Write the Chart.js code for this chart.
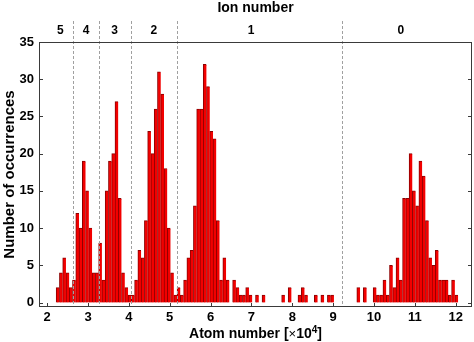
<!DOCTYPE html>
<html>
<head>
<meta charset="utf-8">
<script src="https://cdn.jsdelivr.net/npm/chart.js@4.4.0/dist/chart.umd.min.js"></script>
<style>
  html, body { margin: 0; padding: 0; background: #fff; }
  #wrap { width: 474px; height: 342px; position: relative; }
</style>
</head>
<body>
<div id="wrap"><canvas id="c" width="474" height="342"></canvas></div>
<script>
// Histogram of atom numbers (units of 10^4), equal-width bins
const binStart = 2.22;
const binWidth = 0.08;
const counts = [
  2, 4, 6, 4, 2, 3, 12, 10, 19, 15,
  10, 4, 4, 8, 3, 15, 19, 20, 27, 14,
  4, 2, 1, 1, 3, 7, 6, 11, 23, 20,
  26, 31, 28, 18, 10, 4, 1, 2, 1, 3,
  6, 7, 13, 26, 26, 32, 29, 23, 22, 11,
  3, 6, 3, 0, 3, 2, 1, 1, 2, 1,
  0, 1, 0, 1, 0, 0, 0, 0, 0, 1,
  0, 2, 0, 0, 1, 2, 1, 0, 0, 1,
  0, 1, 0, 1, 1, 0, 0, 0, 0, 0,
  0, 0, 2, 0, 2, 0, 0, 2, 1, 1,
  3, 1, 5, 2, 6, 3, 14, 14, 20, 15,
  13, 19, 17, 11, 6, 5, 7, 3, 3, 3,
  1, 3, 1
];

const xTicks = [2, 3, 4, 5, 6, 7, 8, 9, 10, 11, 12];
const yTicks = [0, 5, 10, 15, 20, 25, 30, 35];

// Ion-number regions along the atom-number axis
const ionEdges = [2.625, 3.26, 4.045, 5.17, 9.225];
const ionNumbers = ['5', '4', '3', '2', '1', '0'];
const ionLabelAt = [2.32, 2.95, 3.65, 4.61, 6.99, 10.66];

const FONT = '"Liberation Sans", Arial, Helvetica, sans-serif';

const points = counts.map((c, i) => ({
  x: binStart + binWidth * (i + 0.5),
  y: c === 0 ? null : c
}));

const decorations = {
  id: 'decorations',
  afterDatasetsDraw(chart) {
    const { ctx, chartArea: a, scales: { x: xs, y: ys } } = chart;
    ctx.save();

    // region separators
    ctx.strokeStyle = '#a0a0a0';
    ctx.lineWidth = 1;
    ctx.setLineDash([3, 2]);
    ionEdges.forEach(v => {
      const px = Math.round(xs.getPixelForValue(v)) + 0.5;
      ctx.beginPath();
      ctx.moveTo(px, 21);
      ctx.lineTo(px, a.bottom);
      ctx.stroke();
    });
    ctx.setLineDash([]);

    // axes box
    ctx.strokeStyle = '#3a3a3a';
    ctx.lineWidth = 1;
    ctx.strokeRect(a.left + 0.5, a.top + 0.5, a.right - a.left - 1, a.bottom - a.top - 1);

    // inward tick marks
    ctx.beginPath();
    yTicks.forEach(v => {
      const py = Math.round(ys.getPixelForValue(v)) + 0.5;
      ctx.moveTo(a.left, py); ctx.lineTo(a.left + 4, py);
      ctx.moveTo(a.right, py); ctx.lineTo(a.right - 4, py);
    });
    xTicks.forEach(v => {
      const px = Math.round(xs.getPixelForValue(v)) + 0.5;
      ctx.moveTo(px, a.bottom); ctx.lineTo(px, a.bottom - 4);
    });
    ctx.stroke();

    // ion numbers and top title
    ctx.fillStyle = '#000';
    ctx.textAlign = 'center';
    ctx.textBaseline = 'middle';
    ctx.font = 'bold 12px ' + FONT;
    ionNumbers.forEach((t, i) => {
      ctx.fillText(t, xs.getPixelForValue(ionLabelAt[i]), 31);
    });
    const cx = (a.left + a.right) / 2;
    ctx.font = 'bold 14px ' + FONT;
    ctx.fillText('Ion number', cx, 8);

    // x-axis title with superscript exponent
    const parts = [
      { t: 'Atom number [', f: 'bold 14px ' + FONT, dy: 0 },
      { t: '×', f: '13px ' + FONT, dy: 0 },
      { t: '10', f: 'bold 14px ' + FONT, dy: 0 },
      { t: '4', f: 'bold 10px ' + FONT, dy: -5 },
      { t: ']', f: 'bold 14px ' + FONT, dy: 0 }
    ];
    let total = 0;
    parts.forEach(p => { ctx.font = p.f; p.w = ctx.measureText(p.t).width; total += p.w; });
    let px = cx - total / 2;
    ctx.textAlign = 'left';
    ctx.textBaseline = 'alphabetic';
    parts.forEach(p => { ctx.font = p.f; ctx.fillText(p.t, px, 338 + p.dy); px += p.w; });

    // y-axis title
    ctx.translate(10, (a.top + a.bottom) / 2);
    ctx.rotate(-Math.PI / 2);
    ctx.textAlign = 'center';
    ctx.textBaseline = 'middle';
    ctx.font = 'bold 15px ' + FONT;
    ctx.fillText('Number of occurrences', 0, 0);

    ctx.restore();
  }
};

new Chart(document.getElementById('c'), {
  type: 'bar',
  data: {
    datasets: [{
      data: points,
      backgroundColor: '#f20000',
      borderColor: '#8c0000',
      borderWidth: { left: 1, top: 1, right: 0, bottom: 0 },
      borderSkipped: false,
      barPercentage: 1,
      categoryPercentage: 1
    }]
  },
  options: {
    responsive: false,
    animation: false,
    devicePixelRatio: 1,
    layout: { padding: { top: 42, right: 2, left: 0, bottom: 0 } },
    plugins: { legend: { display: false }, tooltip: { enabled: false } },
    scales: {
      x: {
        type: 'linear',
        offset: false,
        min: 1.8,
        max: 12.4,
        grid: { display: false, drawTicks: false, offset: false },
        border: { display: false },
        afterBuildTicks: s => { s.ticks = xTicks.map(v => ({ value: v })); },
        afterFit: s => { s.height = 35; },
        ticks: {
          padding: 3,
          color: '#000',
          font: { family: FONT, weight: 'bold', size: 13 },
          callback: v => String(v)
        }
      },
      y: {
        min: -0.6,
        max: 35,
        grid: { display: false, drawTicks: false },
        border: { display: false },
        afterBuildTicks: s => { s.ticks = yTicks.map(v => ({ value: v })); },
        afterFit: s => { s.width = 39; },
        ticks: {
          padding: 5,
          color: '#000',
          font: { family: FONT, weight: 'bold', size: 13 },
          callback: v => String(v)
        }
      }
    }
  },
  plugins: [decorations]
});
</script>
</body>
</html>
